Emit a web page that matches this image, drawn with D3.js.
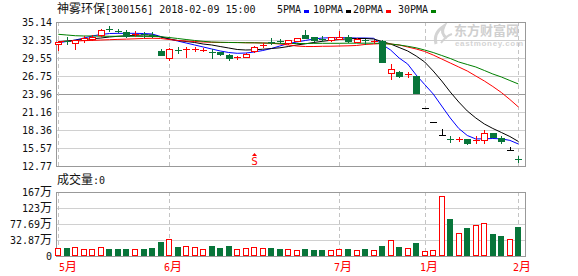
<!DOCTYPE html>
<html>
<head>
<meta charset="utf-8">
<script src="https://cdnjs.cloudflare.com/ajax/libs/d3/7.8.5/d3.min.js"></script>
<style>
  body { margin: 0; background: #fff; }
  svg { display: block; }
  text { font-family: 'DejaVu Sans Mono', monospace; font-size: 10px; fill: #111; }
  .cjk { font-family: 'Noto Sans CJK SC', sans-serif; font-size: 12px; }
</style>
</head>
<body>
<svg id="chart"></svg>
<script>
const stockName = '神雾环保';
const stockInfo = '[300156] 2018-02-09 15:00';

// daily candles, oldest first
const open = [31.68, 32.24, 31.83, 32.27, 32.50, 33.12, 34.10, 33.85, 33.66, 33.20,
  33.32, 33.28, 30.71, 29.47, 30.90, 30.79, 30.79, 30.74, 30.68, 30.43,
  30.01, 29.50, 29.75, 30.64, 31.52, 32.19, 32.24, 31.83, 32.24, 33.12,
  32.76, 32.55, 32.34, 32.50, 32.86, 31.99, 32.39, 32.14, 32.19, 27.17,
  27.42, 26.97, 26.75, 21.74, 19.57, 17.61, 17.07, 16.86, 16.89, 16.76,
  16.81, 17.85, 17.07, 15.21, 13.86];
const close = [32.08, 32.14, 32.34, 32.70, 32.86, 33.90, 34.01, 33.74, 33.04, 33.35,
  33.23, 33.17, 30.09, 31.02, 30.79, 30.90, 30.90, 30.84, 30.43, 30.22,
  29.50, 29.70, 30.22, 31.30, 31.61, 32.08, 32.14, 32.34, 32.61, 32.70,
  32.34, 32.45, 32.76, 32.86, 32.19, 32.50, 32.30, 32.24, 28.97, 27.84,
  26.80, 27.06, 24.16, 21.74, 19.57, 17.61, 16.97, 16.97, 16.39, 16.86,
  17.82, 17.28, 16.70, 15.21, 13.78];
const high = [32.19, 32.86, 32.42, 33.04, 33.12, 34.01, 34.52, 34.13, 33.90, 33.74,
  33.59, 33.63, 30.95, 31.10, 31.18, 31.21, 31.21, 31.10, 30.87, 30.53,
  30.12, 29.86, 30.37, 31.46, 31.83, 32.61, 32.55, 32.42, 32.70, 33.90,
  32.86, 33.01, 32.86, 33.74, 33.12, 32.58, 32.50, 32.34, 32.27, 28.62,
  27.53, 27.42, 26.75, 21.74, 19.57, 18.52, 17.43, 17.28, 16.97, 17.43,
  18.36, 17.90, 17.43, 15.72, 14.33];
const low = [30.79, 31.68, 30.95, 32.11, 32.42, 32.97, 33.79, 33.51, 32.81, 32.97,
  32.81, 32.76, 30.01, 29.24, 30.40, 29.63, 30.56, 30.64, 29.50, 30.01,
  29.19, 29.39, 29.63, 30.53, 31.33, 31.68, 31.83, 31.80, 32.19, 32.61,
  32.24, 32.19, 32.19, 32.45, 32.08, 31.96, 31.68, 31.83, 28.97, 26.24,
  26.55, 26.64, 24.16, 21.74, 19.57, 17.61, 16.55, 16.66, 16.11, 16.39,
  16.39, 17.23, 16.39, 15.21, 13.39];
// volume in 万
const volume = [9.6, 11.3, 14.1, 7.7, 7.4, 12.4, 7.6, 7.7, 7.5, 7.8,
  7.6, 11.3, 28.1, 35.7, 14.1, 16.1, 12.4, 7.7, 16.1, 11.3,
  16.0, 7.7, 9.6, 12.4, 9.6, 10.5, 7.6, 7.7, 4.9, 7.7,
  4.8, 4.9, 4.9, 7.7, 7.6, 4.9, 7.7, 4.8, 16.1, 32.9,
  13.3, 9.6, 24.5, 2.1, 4.0, 156.1, 91.7, 52.5, 66.5, 74.9,
  80.5, 50.5, 44.1, 35.7, 69.3];

const ma5 = [31.92, 32.11, 32.34, 32.65, 32.97, 33.20, 33.35, 33.38, 33.38, 33.38,
  33.35, 33.28, 32.89, 32.50, 32.19, 31.88, 31.57, 31.26, 30.95, 30.64,
  30.40, 30.28, 30.32, 30.48, 30.71, 31.02, 31.41, 31.80, 32.03, 32.27,
  32.50, 32.65, 32.70, 32.70, 32.70, 32.65, 32.65, 32.61, 31.65, 30.79,
  29.55, 28.62, 26.91, 25.43, 23.96, 22.09, 20.23, 18.60, 17.51, 16.97,
  17.00, 17.04, 16.99, 16.75, 16.19];
const ma10 = [32.08, 32.19, 32.31, 32.42, 32.55, 32.65, 32.81, 32.92, 33.01, 33.07,
  33.12, 33.12, 32.81, 32.50, 32.27, 32.11, 31.96, 31.72, 31.57, 31.33,
  31.10, 30.87, 30.79, 30.82, 30.91, 31.02, 31.13, 31.33, 31.57, 31.75,
  31.96, 32.14, 32.30, 32.42, 32.53, 32.58, 32.58, 32.50, 32.11, 31.72,
  31.18, 30.64, 29.86, 28.93, 27.53, 25.98, 24.27, 22.71, 21.32, 20.23,
  19.30, 18.60, 17.98, 17.35, 16.58];
const ma20 = [32.08, 32.14, 32.19, 32.24, 32.28, 32.34, 32.39, 32.44, 32.48, 32.53,
  32.58, 32.61, 32.58, 32.42, 32.27, 32.19, 32.11, 32.03, 31.99, 31.96,
  31.96, 31.96, 31.92, 31.91, 31.88, 31.83, 31.72, 31.57, 31.41, 31.33,
  31.33, 31.37, 31.38, 31.41, 31.44, 31.49, 31.65, 31.72, 31.80, 31.72,
  31.57, 31.26, 30.95, 30.56, 30.01, 29.39, 28.77, 28.15, 27.53, 26.75,
  25.98, 25.12, 24.19, 23.10, 21.94];
const ma30 = [33.23, 33.12, 33.01, 32.97, 32.97, 32.93, 32.92, 32.92, 32.92, 32.92,
  32.90, 32.89, 32.86, 32.73, 32.58, 32.42, 32.27, 32.14, 32.03, 31.99,
  31.96, 31.94, 31.92, 31.91, 31.88, 31.85, 31.82, 31.80, 31.80, 31.80,
  31.82, 31.83, 31.83, 31.83, 31.85, 31.85, 31.85, 31.85, 31.80, 31.72,
  31.57, 31.37, 31.13, 30.79, 30.40, 29.94, 29.47, 28.93, 28.54, 28.15,
  27.61, 27.06, 26.60, 26.05, 25.51];

const maNames = ['5PMA', '10PMA', '20PMA', '30PMA'];
const priceTicks = [12.77, 15.57, 18.36, 21.16, 23.96, 26.75, 29.55, 32.35, 35.14];
const volTicks = [-11.95, 32.87, 77.69, 122.51, 167.33];
const volTickLabels = ['0', '32.87', '77.69', '123', '167'];
const monthIdx = [0, 13, 33, 43, 54];
const monthLabels = ['5', '6', '7', '1', '2'];
const signalIdx = 23;

const W = 578, H = 276;
const left = 56, right = 525;
const pTop = 22, pBottom = 166;
const vTop = 192, vBottom = 256;
const red = '#ff0000', green = '#08753a';
const maColors = ['#0000ff', '#000000', '#ff0000', '#008000'];
const legendX = [277, 313, 353, 398];

const svg = d3.select('#chart').attr('width', W).attr('height', H);
svg.append('rect').attr('width', W).attr('height', H).attr('fill', '#fff');

const x = d3.scaleLinear().domain([0, close.length - 1]).range([58.3, 518.4]);
const y = d3.scaleLinear().domain([priceTicks[0], priceTicks[priceTicks.length - 1]]).range([pBottom, pTop]);
const yv = d3.scaleLinear().domain([volTicks[0], volTicks[volTicks.length - 1]]).range([vBottom, vTop]);
const px = i => Math.round(x(i));

drawWatermark();
drawGrid(y, priceTicks, pTop, pBottom, 23.96);
drawGrid(yv, volTicks, vTop, vBottom, null);
drawMovingAverages();
drawCandles();
drawSignal();
drawVolume();
drawLabels();

function drawWatermark() {
  const g = svg.append('g').attr('fill', 'none').attr('stroke', '#d4d4d4').attr('stroke-width', 3);
  g.append('path').attr('d', 'M436,44 Q433,33 444,26 Q440,34 447,38');
  g.append('path').attr('d', 'M441,43 Q446,36 452,34').attr('stroke-width', 2);
  svg.append('text').attr('x', 454).attr('y', 35)
    .attr('class', 'cjk').style('font-size', '13px').style('font-weight', 'bold').style('fill', '#cfcfcf')
    .text('东方财富网');
  svg.append('text').attr('x', 455).attr('y', 46)
    .style('font-family', 'Liberation Sans, sans-serif').style('font-size', '8px')
    .style('font-weight', 'bold').style('fill', '#d4d4d4')
    .attr('textLength', 68).text('eastmoney.com');
}

function drawGrid(scale, ticks, top, bottom, darkTick) {
  const g = svg.append('g');
  g.selectAll('line.h')
    .data(ticks.slice(1, -1))
    .enter().append('line')
    .attr('x1', left).attr('x2', right)
    .attr('y1', d => Math.round(scale(d)) + 0.5)
    .attr('y2', d => Math.round(scale(d)) + 0.5)
    .attr('stroke', d => d === darkTick ? '#999' : '#d0d0d0');
  g.selectAll('line.v')
    .data(monthIdx)
    .enter().append('line')
    .attr('x1', d => px(d) + 0.5).attr('x2', d => px(d) + 0.5)
    .attr('y1', top).attr('y2', bottom)
    .attr('stroke', '#c4c4c4')
    .attr('stroke-dasharray', '4,3');
  g.append('rect')
    .attr('x', left + 0.5).attr('y', top + 0.5)
    .attr('width', right - left).attr('height', bottom - top)
    .attr('fill', 'none').attr('stroke', '#999');
}

function drawMovingAverages() {
  const line = d3.line().x((d, i) => x(i)).y(d => y(d));
  [ma5, ma10, ma20, ma30].forEach((series, k) => {
    svg.append('path')
      .datum(series)
      .attr('d', line)
      .attr('fill', 'none')
      .attr('stroke', maColors[k])
      .attr('stroke-width', 1);
  });
}

function candleColor(i) {
  if (close[i] > open[i]) return red;
  if (close[i] < open[i]) return green;
  return '#000';
}

function drawCandles() {
  const g = svg.append('g');
  close.forEach((c, i) => {
    const cx = px(i);
    const col = candleColor(i);
    g.append('line')
      .attr('x1', cx + 0.5).attr('x2', cx + 0.5)
      .attr('y1', Math.round(y(high[i]))).attr('y2', Math.round(y(low[i])) + 1)
      .attr('stroke', col);
    const top = Math.round(y(Math.max(open[i], c)));
    const bot = Math.round(y(Math.min(open[i], c)));
    if (bot - top < 2 || col === '#000') {
      g.append('line')
        .attr('x1', cx - 3).attr('x2', cx + 4)
        .attr('y1', Math.round(y(c)) + 0.5).attr('y2', Math.round(y(c)) + 0.5)
        .attr('stroke', col);
    } else if (col === red) {
      g.append('rect')
        .attr('x', cx - 2.5).attr('y', top + 0.5)
        .attr('width', 6).attr('height', bot - top)
        .attr('fill', '#fff').attr('stroke', red);
    } else {
      g.append('rect')
        .attr('x', cx - 3).attr('y', top)
        .attr('width', 7).attr('height', bot - top + 1)
        .attr('fill', green);
    }
  });
}

function drawSignal() {
  const cx = px(signalIdx) + 0.5;
  svg.append('path')
    .attr('d', `M${cx - 2.5},156 L${cx + 2.5},156 L${cx},153 Z`)
    .attr('fill', red);
  svg.append('text').attr('x', cx).attr('y', 165)
    .attr('text-anchor', 'middle')
    .style('font-size', '11px').style('fill', red)
    .text('S');
}

function drawVolume() {
  const g = svg.append('g');
  volume.forEach((v, i) => {
    const cx = px(i);
    const top = Math.round(yv(v));
    if (close[i] >= open[i]) {
      g.append('rect')
        .attr('x', cx - 2.5).attr('y', top + 0.5)
        .attr('width', 5).attr('height', vBottom - top - 1)
        .attr('fill', '#fff').attr('stroke', red);
    } else {
      g.append('rect')
        .attr('x', cx - 3).attr('y', top)
        .attr('width', 6).attr('height', vBottom - top)
        .attr('fill', green);
    }
  });
}

function drawLabels() {
  const priceAxis = d3.axisLeft(y).tickValues(priceTicks)
    .tickSize(0).tickPadding(4).tickFormat(d3.format('.2f'));
  svg.append('g').attr('transform', `translate(${left},0)`)
    .call(priceAxis)
    .call(g => g.select('.domain').remove());

  const volAxis = d3.axisLeft(yv).tickValues(volTicks).tickSize(0).tickPadding(4);
  svg.append('g').attr('transform', `translate(${left},0)`)
    .call(volAxis)
    .call(g => g.select('.domain').remove())
    .call(g => g.selectAll('.tick text').each(function (d, i) {
      const t = d3.select(this).text(volTickLabels[i]);
      if (i > 0) t.append('tspan').attr('class', 'cjk').text('万');
    }));

  // title
  const title = svg.append('text').attr('x', 57).attr('y', 13);
  title.append('tspan').attr('class', 'cjk').text(stockName);
  title.append('tspan').text(stockInfo);

  // legend
  maNames.forEach((name, k) => {
    const t = svg.append('text').attr('x', legendX[k]).attr('y', 13).text(name);
    const w = t.node().getComputedTextLength();
    svg.append('rect')
      .attr('x', Math.round(legendX[k] + w + 3)).attr('y', 10)
      .attr('width', 5).attr('height', 3)
      .attr('fill', maColors[k]);
  });

  // volume caption
  const cap = svg.append('text').attr('x', 57).attr('y', 184);
  cap.append('tspan').attr('class', 'cjk').text('成交量');
  cap.append('tspan').text(':0');

  // month labels
  monthIdx.forEach((d, k) => {
    const t = svg.append('text')
      .attr('x', Math.max(px(d) - 5, left + 3)).attr('y', 271)
      .style('fill', red);
    t.append('tspan').text(monthLabels[k]);
    t.append('tspan').attr('class', 'cjk').style('fill', red).text('月');
  });
}
</script>
</body>
</html>
